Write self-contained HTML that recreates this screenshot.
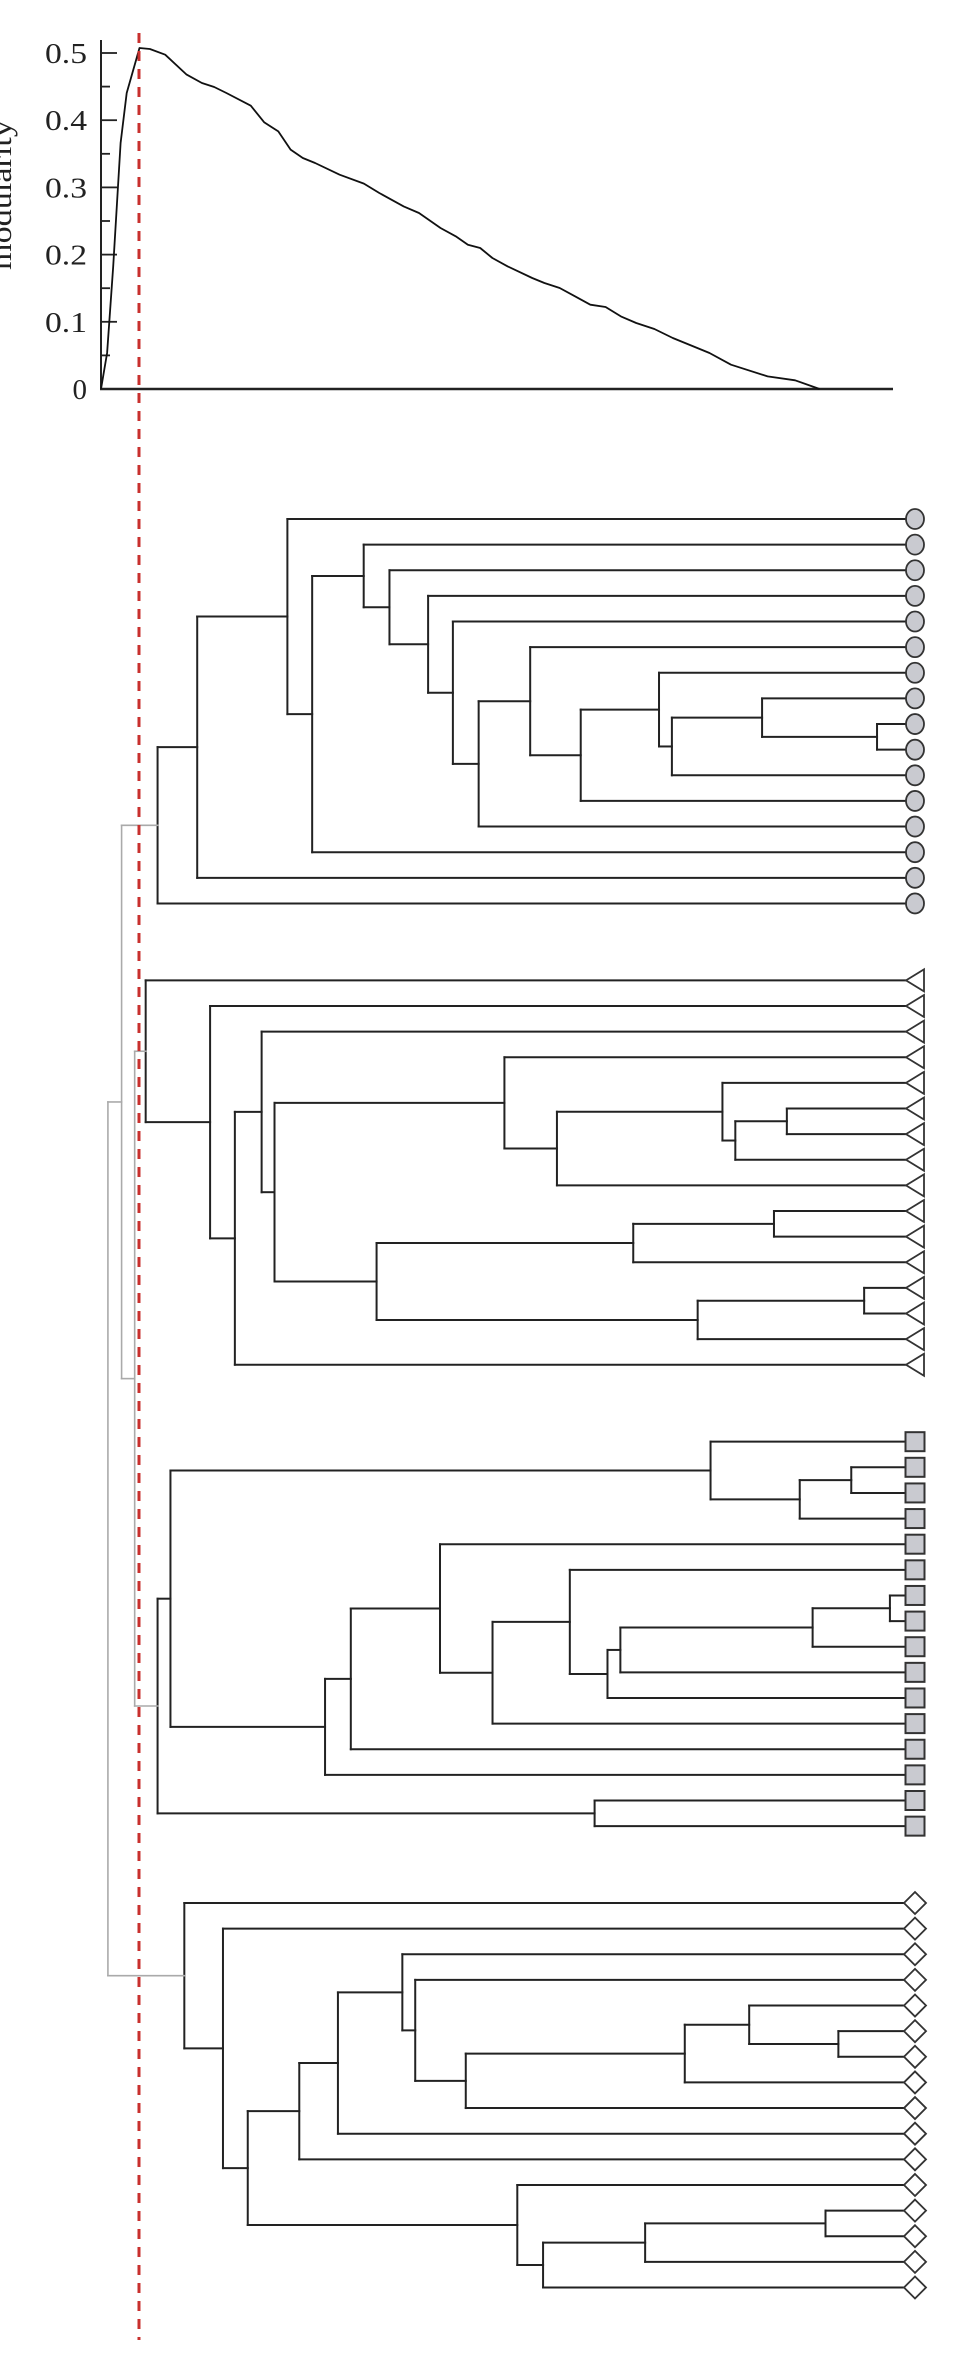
<!DOCTYPE html>
<html><head><meta charset="utf-8"><style>
html,body{margin:0;padding:0;background:#fff;}
svg{display:block;}
text{font-family:"Liberation Serif",serif;fill:#222;}
</style></head><body>
<svg id="fig" width="958" height="2358" viewBox="0 0 958 2358" xmlns="http://www.w3.org/2000/svg">
<g id="topchart"></g>
<g id="tree"></g>
<g id="cut"></g>
</svg>
<script>
// ---- modularity curve data ----
const stepX = [0,0.77,1.54,2.47,3.24,4.86,6.18,8.11,10.81,12.74,14.29,15.83,18.92,20.62,22.39,23.94,25.48,27.03,30.12,33.2,35.14,38.22,40.15,42.86,44.79,46.33,47.88,49.42,51.35,54.44,55.98,57.92,59.85,61.78,63.71,65.64,67.57,69.88,72.2,75.29,76.83,79.54,84.17,87.64,90.73];
const modularity = [0,0.0536,0.1825,0.366,0.4405,0.5075,0.506,0.4975,0.4678,0.4554,0.4494,0.4405,0.4216,0.3968,0.3834,0.3562,0.3438,0.3363,0.3189,0.3056,0.2917,0.2718,0.2619,0.2396,0.2272,0.2148,0.2098,0.1949,0.1825,0.1652,0.1577,0.1503,0.1379,0.1255,0.122,0.1081,0.0982,0.0893,0.0759,0.061,0.0536,0.0362,0.0188,0.0129,0];
const yTickLabels = ["0","0.1","0.2","0.3","0.4","0.5"];
const yTickValues = [0,0.1,0.2,0.3,0.4,0.5];
const cutStep = 4.86;

// ---- dendrogram data: [mergeLevel, left, right]; numbers = leaf index ----
const cluster1 = [159,[199,[290,0,[315,[367,1,[393,2,[432,3,[457,4,[483,[535,5,[586,[665,6,[678,[769,7,[885,8,9]],10]],11]],12]]]]],13]],14],15];
const cluster2 = [147,0,[212,1,[237,[264,2,[277,[509,3,[562,[729,4,[742,[794,5,6],7]],8]],[380,[639,[781,9,10],11],[704,[872,12,13],14]]]],15]]];
const cluster3 = [159,[172,[717,0,[807,[859,1,2],3]],[328,[354,[444,4,[497,[575,5,[613,[626,[820,[898,6,7],8],9],10]],11]],12],13]],[600,14,15]];
const cluster4 = [186,0,[225,1,[250,[302,[341,[406,2,[419,3,[470,[691,[756,4,[846,5,6]],7],8]]],9],10],[522,11,[548,[651,[833,12,13],14],15]]]]];
const clusters = [cluster1, cluster2, cluster3, cluster4];
const markerShapes = ["circle","triangle","square","diamond"];
const upperLevels = [108.9, 122.7, 135.9];

const NS = "http://www.w3.org/2000/svg";
function mk(tag, attrs, parent){const e=document.createElementNS(NS,tag);for(const k in attrs)e.setAttribute(k,attrs[k]);parent.appendChild(e);return e;}

// ---- top chart ----
const topG = document.getElementById('topchart');
const X0=101, X1=893, Y0=389, Y5=53;
const sx = v => X0 + v/100*(X1-X0);
const sy = v => Y0 - v/0.5*(Y0-Y5);
const yAxis = mk('line',{x1:X0,y1:40,x2:X0,y2:Y0+1,stroke:'#222','stroke-width':2},topG);


const xAxis = mk('line',{x1:X0-1,y1:Y0,x2:X1,y2:Y0,stroke:'#222','stroke-width':2.5},topG);


for(let i=0;i<=10;i++){
  const v=i*0.05;
  const t=mk('line',{x1:X0,y1:sy(v),x2:X0+(i%2===0?16:9),y2:sy(v),stroke:'#222','stroke-width':1.8},topG);
  
  
}
yTickValues.forEach((v,i)=>{
  const attrs={x:87,y:sy(v)+10,'text-anchor':'end','font-size':29};
  if(yTickLabels[i].length>1){attrs.textLength=42;attrs.lengthAdjust='spacingAndGlyphs';}
  const t=mk('text',attrs,topG);
  t.textContent=yTickLabels[i];
  
  
});
const title=mk('text',{x:0,y:0,'font-size':30,'text-anchor':'middle',transform:'translate(11,195) rotate(-90)',textLength:150,lengthAdjust:'spacingAndGlyphs'},topG);
title.textContent='modularity';


let d='';
stepX.forEach((x,i)=>{d+=(i?'L':'M')+sx(x).toFixed(1)+' '+sy(modularity[i]).toFixed(1);});
const curve=mk('path',{d:d,fill:'none',stroke:'#111','stroke-width':1.8,'stroke-linejoin':'round'},topG);



// ---- dendrogram ----
const treeG=document.getElementById('tree');
const lx = lvl => lvl*0.991;
const LEAF_END = 905, MX = 915;
const slot = 25.63, firstY = 519;
const leafY = (c,i) => firstY + (c*18+i)*slot;
const BLACK='#222', GRAY='#aaa';
function seg(x1,y1,x2,y2,col,w){
  const l=mk('line',{x1:x1,y1:y1,x2:x2,y2:y2,stroke:col,'stroke-width':w,'stroke-linecap':'square'},treeG);
  
  
}
function draw(node,c){
  if(typeof node==='number'){ return {x:LEAF_END,y:leafY(c,node)}; }
  const x=lx(node[0]);
  const a=draw(node[1],c), b=draw(node[2],c);
  seg(x,a.y,a.x,a.y,BLACK,2);
  seg(x,b.y,b.x,b.y,BLACK,2);
  seg(x,a.y,x,b.y,BLACK,2);
  return {x:x,y:(a.y+b.y)/2};
}
function marker(shape,y){
  let e;
  if(shape==='circle') e=mk('ellipse',{cx:MX,cy:y,rx:9,ry:10,fill:'#c9cad0',stroke:'#333','stroke-width':1.8},treeG);
  else if(shape==='triangle') e=mk('polygon',{points:`${MX-9},${y} ${MX+9},${y-11} ${MX+9},${y+11}`,fill:'#fff',stroke:'#333','stroke-width':1.8},treeG);
  else if(shape==='square') e=mk('rect',{x:MX-9.5,y:y-9.5,width:19,height:19,fill:'#c9cad0',stroke:'#333','stroke-width':2},treeG);
  else e=mk('polygon',{points:`${MX},${y-11} ${MX+11},${y} ${MX},${y+11} ${MX-11},${y}`,fill:'#fff',stroke:'#333','stroke-width':1.8},treeG);
  
  
}
const roots = clusters.map((cl,c)=>{
  const r=draw(cl,c);
  for(let i=0;i<16;i++) marker(markerShapes[c],leafY(c,i));
  return r;
});
function gjoin(lvl,a,b){
  const x=lx(lvl);
  seg(x,a.y,a.x,a.y,GRAY,1.6);
  seg(x,b.y,b.x,b.y,GRAY,1.6);
  seg(x,a.y,x,b.y,GRAY,1.6);
  return {x:x,y:(a.y+b.y)/2};
}
const g1=gjoin(upperLevels[2],roots[1],roots[2]);
const g2=gjoin(upperLevels[1],roots[0],g1);
gjoin(upperLevels[0],g2,roots[3]);

// ---- cut line ----
const cutLine=mk('line',{x1:sx(cutStep)-0.5,y1:33,x2:sx(cutStep)-0.5,y2:2340,stroke:'#c8302e','stroke-width':3,'stroke-dasharray':'10 8'},document.getElementById('cut'));


</script>
</body></html>
